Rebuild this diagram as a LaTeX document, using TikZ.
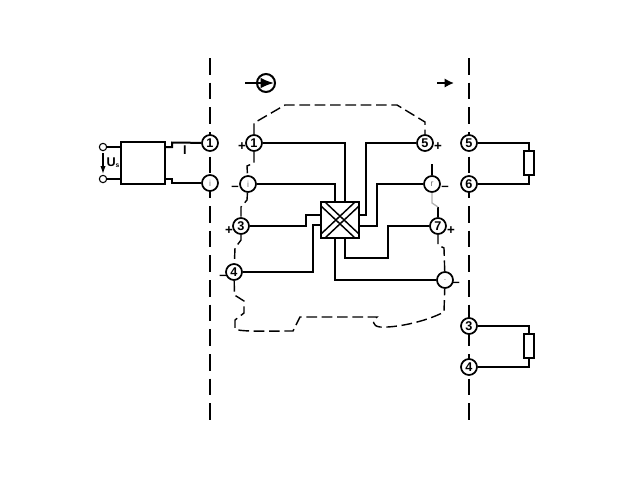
\documentclass[tikz,border=0pt]{standalone}
\usepackage{fontspec}
\setmainfont{Liberation Sans}
\usetikzlibrary{arrows.meta}
\tikzset{
  x=0.75pt,y=-0.75pt,
  wire/.style={line width=1.5pt,line join=miter},
  term/.style={circle,draw,line width=1.3pt,fill=white,inner sep=0pt,minimum size=12pt,font=\bfseries\fontsize{9.5}{9.5}\selectfont},
  faint/.style={term,font=\fontsize{6.5}{6.5}\selectfont,text=black!55},
  rail/.style={line width=1.5pt,dash pattern=on 12.5pt off 6pt},
  shell/.style={line width=1.05pt,dash pattern=on 8pt off 3.5pt},
  shellfaint/.style={line width=1pt,draw=gray!60},
  sign/.style={font=\bfseries\fontsize{10}{10}\selectfont,inner sep=0pt},
  res/.style={draw,line width=1.1pt,fill=white,minimum width=7.5pt,minimum height=18pt,inner sep=0pt},
  port/.style={circle,draw,line width=0.8pt,fill=white,inner sep=0pt,minimum size=5.5pt},
  cross/.style={line width=1.1pt},
}
\begin{document}
\begin{tikzpicture}
\useasboundingbox (0,0) rectangle (640,480);
% rails
\coordinate (railLt) at (210,58); \coordinate (railLb) at (210,421);
\coordinate (railRt) at (469,58); \coordinate (railRb) at (469,421);
\draw[rail] (railLt) -- (railLb);
\draw[rail] (railRt) -- (railRb);
% coupler box
\node[draw,line width=1.7pt,minimum width=28.5pt,minimum height=27pt,inner sep=0pt] (X) at (340,220) {};
% terminals
\node[term] (L1) at (210,143) {1};
\node[faint] (L2) at (210,183) {i};
\node[term] (A1) at (254,143) {1};
\node[faint] (A2) at (248,184) {i};
\node[term] (A3) at (241,226) {3};
\node[term] (A4) at (234,272) {4};
\node[term] (B5) at (425,143) {5};
\node[faint] (B6) at (432,184) {r};
\node[term] (B7) at (438,226) {7};
\node[faint] (B8) at (445,280) {.};
\node[term] (R5) at (469,143) {5};
\node[term] (R6) at (469,184) {6};
\node[term] (R3) at (469,326) {3};
\node[term] (R4) at (469,367) {4};
% housing outline
\draw[shell] (A1) -- (254,123) -- (285,105) -- (397,105) -- (425,122) -- (B5);
\draw[shell] (A1) -- (254,163) -- (247,166) -- (A2);
\draw[shell] (A2) -- (247,200) -- (241,207) -- (A3);
\draw[shell] (A3) -- (241,240) -- (235,248) -- (A4);
\draw[shell] (A4) -- (234.5,295) -- (244,301) -- (244,313) -- (235,320) -- (235,329)
  .. controls (240,332) and (270,331) .. (293,331) -- (300,317) -- (377,317)
  .. controls (372,320) and (372,326) .. (380,327)
  .. controls (395,328) and (425,322) .. (444,312) -- (B8);
\draw[shell] (B8) -- (444,248) -- (438,245) -- (B7);
\draw[shell] (B7) -- (438,207);
\draw[shellfaint] (438,207) -- (432,203) -- (B6);
\draw[shell] (B6) -- (432,164);
% wires to box
\draw[wire] (A1) -- (345,143) -- (345,202);
\draw[wire] (B5) -- (366,143) -- (366,215) -- (359,215);
\draw[wire] (A2) -- (334.5,184) -- (334.5,202);
\draw[wire] (B6) -- (377,184) -- (377,226) -- (359,226);
\draw[wire] (A3) -- (306,226) -- (306,215) -- (321,215);
\draw[wire] (A4) -- (313,272) -- (313,225) -- (321,225);
\draw[wire] (B7) -- (388,226) -- (388,258) -- (345,258) -- (345,238);
\draw[wire] (B8) -- (334.5,280) -- (334.5,238);
% crossed lines
\draw[cross] (321,206) -- (355,238);
\draw[cross] (325,202) -- (359,234);
\draw[cross] (359,206) -- (325,238);
\draw[cross] (355,202) -- (321,234);
% load resistors
\node[res] (R1) at (529,163) {};
\node[res] (R2) at (529,346) {};
\draw[wire] (R5) -- (529,143) -- (R1.north);
\draw[wire] (R6) -- (529,184) -- (R1.south);
\draw[wire] (R3) -- (529,326) -- (R2.north);
\draw[wire] (R4) -- (529,367) -- (R2.south);
% supply
\node[draw,line width=1.3pt,minimum width=33pt,minimum height=31.5pt,inner sep=0pt] (S) at (143,163) {};
\node[port] (P1) at (103,147) {};
\node[port] (P2) at (103,179) {};
\draw[wire] (P1) -- (S.west |- P1);
\draw[wire] (P2) -- (S.west |- P2);
\draw[wire] (S.east |- P1) -- (172,147) -- (172,142.5) -- (L1);
\draw[wire] (S.east |- P2) -- (172,179) -- (172,183) -- (L2);
\coordinate (UA) at (103,153); \coordinate (UB) at (103,174);
\draw[line width=0.9pt,-{Latex[length=6pt,width=4pt]}] (UA) -- (UB);
\node[font=\bfseries\fontsize{9.5}{9.5}\selectfont,inner sep=0pt] (Us) at (113,163) {U\raisebox{-1pt}{\fontsize{5}{5}\selectfont s}};
\node[font=\bfseries\fontsize{9.5}{9.5}\selectfont,inner sep=0pt] (Ilabel) at (185,150) {I};
% direction symbols
\node[circle,draw,line width=1.5pt,minimum size=13.5pt,inner sep=0pt] (D) at (266,83) {};
\coordinate (Da) at (245,83); \coordinate (Db) at (274,83);
\draw[line width=1.6pt,-{Latex[length=10pt,width=8pt]}] (Da) -- (Db);
\coordinate (Ea) at (437,83); \coordinate (Eb) at (454,83);
\draw[line width=1.6pt,-{Latex[length=7pt,width=7pt]}] (Ea) -- (Eb);
% signs
\node[sign] (s1) at (242,147) {+};
\node[sign] (s2) at (235,188) {--};
\node[sign] (s3) at (229,231) {+};
\node[sign] (s4) at (223,277) {--};
\node[sign] (s5) at (438,147) {+};
\node[sign] (s6) at (445,188) {--};
\node[sign] (s7) at (451,231) {+};
\node[sign] (s8) at (456,284) {--};
\end{tikzpicture}
\end{document}
